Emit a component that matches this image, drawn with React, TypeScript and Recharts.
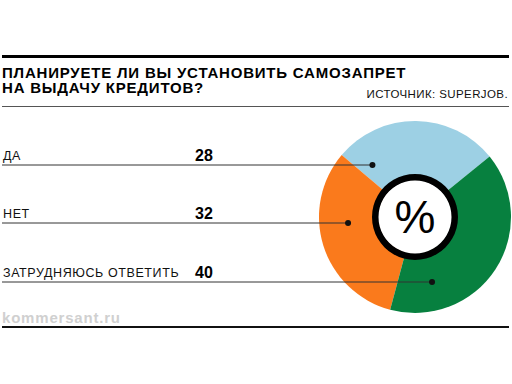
import React from 'react'
import { Pie, PieChart, Cell } from 'recharts'

const categories = ['ДА', 'НЕТ', 'ЗАТРУДНЯЮСЬ ОТВЕТИТЬ']
const shares = [28, 32, 40]
const sliceColors = ['#9dd0e4', '#fa7a1c', '#07803f']

const title = ['ПЛАНИРУЕТЕ ЛИ ВЫ УСТАНОВИТЬ САМОЗАПРЕТ', 'НА ВЫДАЧУ КРЕДИТОВ?']
const source = 'ИСТОЧНИК: SUPERJOB.'
const credit = 'kommersant.ru'
const centreSign = '%'

// layout: pie centre, row rule positions and which side of centre each leader dot sits
const CX = 415
const CY = 217
const ROW_Y = [165, 223, 282]
const DOT_SIDE = [-1, -1, 1]
const FONT = '"Liberation Sans", Arial, sans-serif'

const rows = categories.map((name, i) => ({ name, value: shares[i] }))

function LeaderLabel(props: any) {
  const { cx, cy, outerRadius, index } = props
  const rowY = ROW_Y[index]
  const r = outerRadius * 0.7
  const dy = rowY - cy
  const dx = Math.sqrt(Math.max(r * r - dy * dy, 0)) * DOT_SIDE[index]
  const dotX = cx + dx
  return (
    <g>
      <line x1={2} y1={rowY} x2={dotX} y2={rowY} stroke="#333" strokeWidth={1} />
      <circle cx={dotX} cy={rowY} r={3} fill="#111" />
    </g>
  )
}

export default function App() {
  return (
    <div style={{ position: 'absolute', left: 0, top: 0, width: 512, height: 384, background: '#fff', fontFamily: FONT }}>
      <PieChart width={512} height={384} margin={{ top: 0, right: 0, bottom: 0, left: 0 }} style={{ position: 'absolute', left: 0, top: 0 }}>
        <Pie
          data={rows}
          dataKey="value"
          nameKey="name"
          cx={CX}
          cy={CY}
          innerRadius={0}
          outerRadius={96}
          startAngle={39}
          endAngle={399}
          stroke="none"
          label={LeaderLabel}
          labelLine={false}
          isAnimationActive={false}
        >
          {rows.map((row, i) => (
            <Cell key={row.name} fill={sliceColors[i]} />
          ))}
        </Pie>
        <Pie
          data={[{ value: 1 }]}
          dataKey="value"
          cx={CX}
          cy={CY}
          innerRadius={36}
          outerRadius={43}
          fill="#000"
          stroke="none"
          isAnimationActive={false}
        />
        <Pie
          data={[{ value: 1 }]}
          dataKey="value"
          cx={CX}
          cy={CY}
          innerRadius={0}
          outerRadius={36.5}
          fill="#fff"
          stroke="none"
          isAnimationActive={false}
        />
      </PieChart>
      <svg width={512} height={384} style={{ position: 'absolute', left: 0, top: 0 }} fontFamily={FONT}>
        <text x={CX} y={CY + 16} fontSize={46} textAnchor="middle" fill="#000">{centreSign}</text>
        <rect x={2} y={55} width={507} height={3} fill="#000" />
        <text x={2} y={77.5} fontSize={15} fontWeight="bold" letterSpacing={0.8} fill="#000">{title[0]}</text>
        <text x={2} y={93} fontSize={15} fontWeight="bold" letterSpacing={0.8} fill="#000">{title[1]}</text>
        <text x={508} y={98} fontSize={11.5} letterSpacing={0.4} textAnchor="end" fill="#111">{source}</text>
        <rect x={2} y={106} width={507} height={1} fill="#555" />
        {categories.map((name, i) => (
          <g key={name}>
            <text x={3} y={ROW_Y[i] - 5} fontSize={12.5} letterSpacing={0.6} fill="#111">{name}</text>
            <text x={195} y={ROW_Y[i] - 4} fontSize={16} fontWeight="bold" fill="#000">{shares[i]}</text>
          </g>
        ))}
        <text x={2} y={323} fontSize={15} fontWeight="bold" letterSpacing={0.8} fill="#d0d0d0">{credit}</text>
        <rect x={2} y={326} width={507} height={2} fill="#111" />
      </svg>
    </div>
  )
}
